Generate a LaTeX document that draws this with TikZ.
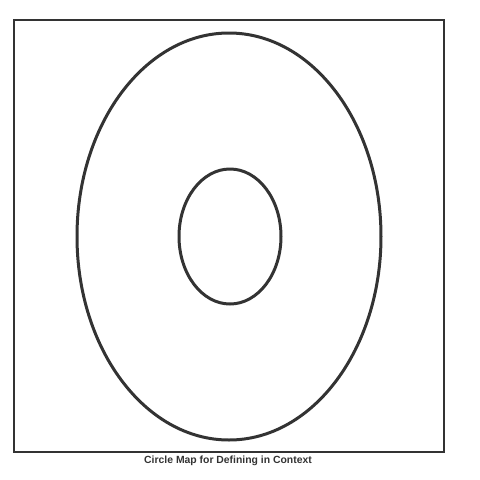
\documentclass[tikz,border=0pt]{standalone}
\usepackage{fontspec}
\setmainfont{Liberation Sans}
\usetikzlibrary{shapes.geometric}
\usetikzlibrary{positioning}
\definecolor{ink}{HTML}{333333}

\begin{document}
\begin{tikzpicture}[x=1pt,y=-1pt]
\tikzset{ring/.style={draw=ink,ellipse,line width=3pt,inner sep=0pt},
         frame/.style={draw=ink,line width=2pt}}
\useasboundingbox (0,0) rectangle (480,480);

%frame and the two circles
\draw[frame] (14,20) rectangle (444,452);
\node (outer) [ring,minimum width=304,minimum height=407] at (229,236.5) {};
\node (inner) [ring,minimum width=102,minimum height=135] at (230,236.5) {};

% caption under the frame
\node (caption) at (228,461) [text=ink,font=\bfseries\fontsize{10.4}{12}\selectfont] {Circle Map for Defining in Context};

\end{tikzpicture}
\end{document}
